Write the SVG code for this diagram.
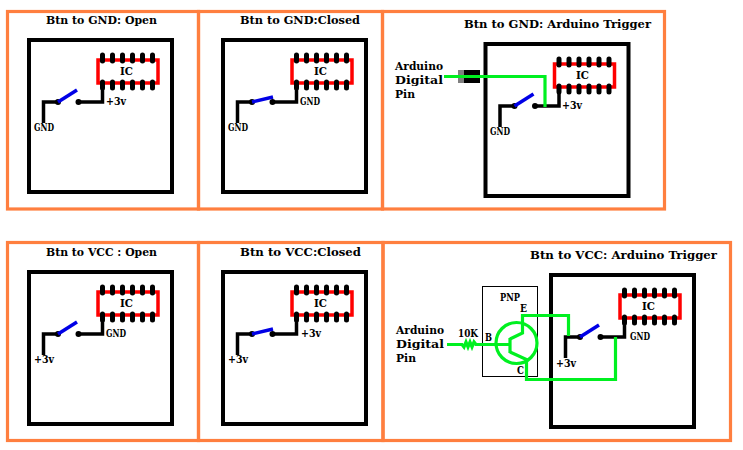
<svg xmlns="http://www.w3.org/2000/svg" width="743" height="450" viewBox="0 0 743 450">
<style>
text{font-family:"DejaVu Serif","Liberation Serif",serif;font-weight:bold;font-size:10.500px;fill:#000}
.frame{fill:none;stroke:#ff7f3f;stroke-width:3.200}
.bd{fill:none;stroke:#000;stroke-width:4}
.ic{fill:none;stroke:#f00;stroke-width:3.500}
.pin{fill:none;stroke:#000;stroke-width:5;stroke-linecap:round}
.wire{fill:none;stroke:#000;stroke-width:3.500}
.sw{fill:none;stroke:#0000e6;stroke-width:3.500}
.g{fill:none;stroke:#00f020;stroke-width:3.200}
</style>
<defs>
<g id="board">
<rect class="bd" x="0" y="0" width="143" height="152"/>
<rect class="ic" x="69" y="20" width="60" height="23"/>
<path class="pin" d="M73.500 15V21M83.500 15V21M93.500 15V21M103.500 15V21M113.500 15V21M123.500 15V21M73.500 42V48M83.500 42V48M93.500 42V48M103.500 42V48M113.500 42V48M123.500 42V48"/>
<path class="wire" d="M14.500 83V62H29M49 62H73.500V48"/>
<circle cx="29" cy="62" r="3"/><circle cx="49.500" cy="62" r="3"/>
</g>
</defs>
<g id="frames">
<rect class="frame" x="7.500" y="11.500" width="191" height="197.500"/>
<rect class="frame" x="198.500" y="11.500" width="184" height="197.500"/>
<rect class="frame" x="382.500" y="11.500" width="282" height="197.500"/>
<rect class="frame" x="7.500" y="242.500" width="191" height="198"/>
<rect class="frame" x="198.500" y="242.500" width="184.500" height="198"/>
<rect class="frame" x="383" y="242.500" width="347.500" height="198"/>
</g>
<g id="gnd-open">
<text x="46" y="24" textLength="111" lengthAdjust="spacingAndGlyphs">Btn to GND: Open</text>
<use href="#board" x="29" y="40"/>
<path class="sw" d="M58 102L77 90"/>
<text x="120" y="75" textLength="13" lengthAdjust="spacingAndGlyphs">IC</text><text x="106" y="105" textLength="20" lengthAdjust="spacingAndGlyphs">+3v</text><text x="34" y="131" textLength="20" lengthAdjust="spacingAndGlyphs">GND</text>
</g>
<g id="gnd-closed">
<text x="240" y="24" textLength="120" lengthAdjust="spacingAndGlyphs">Btn to GND:Closed</text>
<use href="#board" x="223" y="40"/>
<path class="sw" d="M252 102L273 97"/>
<text x="314" y="75" textLength="13" lengthAdjust="spacingAndGlyphs">IC</text><text x="300" y="105" textLength="20" lengthAdjust="spacingAndGlyphs">GND</text><text x="228" y="131" textLength="20" lengthAdjust="spacingAndGlyphs">GND</text>
</g>
<g id="gnd-trigger">
<text x="464" y="28" textLength="187" lengthAdjust="spacingAndGlyphs">Btn to GND: Arduino Trigger</text>
<use href="#board" x="485.500" y="44"/>
<path class="sw" d="M514.500 106L533.500 94"/>
<text x="576" y="79" textLength="13" lengthAdjust="spacingAndGlyphs">IC</text><text x="562" y="109" textLength="20" lengthAdjust="spacingAndGlyphs">+3v</text><text x="490" y="135" textLength="20" lengthAdjust="spacingAndGlyphs">GND</text>
<text x="395" y="70" textLength="48" lengthAdjust="spacingAndGlyphs">Arduino</text><text x="395" y="84" textLength="48" lengthAdjust="spacingAndGlyphs">Digital</text><text x="395" y="98" textLength="20" lengthAdjust="spacingAndGlyphs">Pin</text>
<rect x="458" y="70" width="6" height="13" fill="#808080"/><rect x="464" y="70" width="16" height="13" fill="#000"/>
</g>
<g id="vcc-open">
<text x="46" y="256" textLength="111" lengthAdjust="spacingAndGlyphs">Btn to VCC : Open</text>
<use href="#board" x="29" y="272"/>
<path class="sw" d="M58 334L77 322"/>
<text x="120" y="307" textLength="13" lengthAdjust="spacingAndGlyphs">IC</text><text x="106" y="337" textLength="20" lengthAdjust="spacingAndGlyphs">GND</text><text x="34" y="363" textLength="20" lengthAdjust="spacingAndGlyphs">+3v</text>
</g>
<g id="vcc-closed">
<text x="240" y="256" textLength="121" lengthAdjust="spacingAndGlyphs">Btn to VCC:Closed</text>
<use href="#board" x="223" y="272"/>
<path class="sw" d="M252 334L273 329"/>
<text x="314" y="307" textLength="13" lengthAdjust="spacingAndGlyphs">IC</text><text x="301" y="337" textLength="20" lengthAdjust="spacingAndGlyphs">+3v</text><text x="228" y="363" textLength="20" lengthAdjust="spacingAndGlyphs">+3v</text>
</g>
<g id="vcc-trigger">
<text x="530" y="259" textLength="187" lengthAdjust="spacingAndGlyphs">Btn to VCC: Arduino Trigger</text>
<use href="#board" x="551" y="275"/>
<path class="sw" d="M580 337L599 325"/>
<text x="642" y="310" textLength="13" lengthAdjust="spacingAndGlyphs">IC</text><text x="630" y="340" textLength="20" lengthAdjust="spacingAndGlyphs">GND</text><text x="556" y="367" textLength="20" lengthAdjust="spacingAndGlyphs">+3v</text>
<text x="396" y="334" textLength="48" lengthAdjust="spacingAndGlyphs">Arduino</text><text x="396" y="348" textLength="48" lengthAdjust="spacingAndGlyphs">Digital</text><text x="396" y="362" textLength="20" lengthAdjust="spacingAndGlyphs">Pin</text>
</g>
<g id="pnp">
<rect x="482.500" y="286.500" width="55" height="90" fill="none" stroke="#000" stroke-width="1"/>
<text x="500" y="301" textLength="20" lengthAdjust="spacingAndGlyphs">PNP</text><text x="520" y="312" textLength="7" lengthAdjust="spacingAndGlyphs">E</text><text x="485" y="341" textLength="7" lengthAdjust="spacingAndGlyphs">B</text><text x="517" y="374" textLength="7" lengthAdjust="spacingAndGlyphs">C</text><text x="458" y="337" textLength="20" lengthAdjust="spacingAndGlyphs">10K</text>
</g>
<g id="connectors">
<path class="g" d="M444 76.500H545V107"/>
<path class="g" d="M447 344.500H462L464 347L466 342L468 347L470 342L472 347L474 342L476 344.500H510"/>
<circle class="g" cx="516.500" cy="343" r="20.500"/>
<path class="g" d="M510 338V353"/>
<path class="g" d="M510 339L522.500 333V315.500H568.500V336"/>
<path class="g" d="M510 352L526.500 359.500V379.500H615.500V337"/>
</g>
</svg>
